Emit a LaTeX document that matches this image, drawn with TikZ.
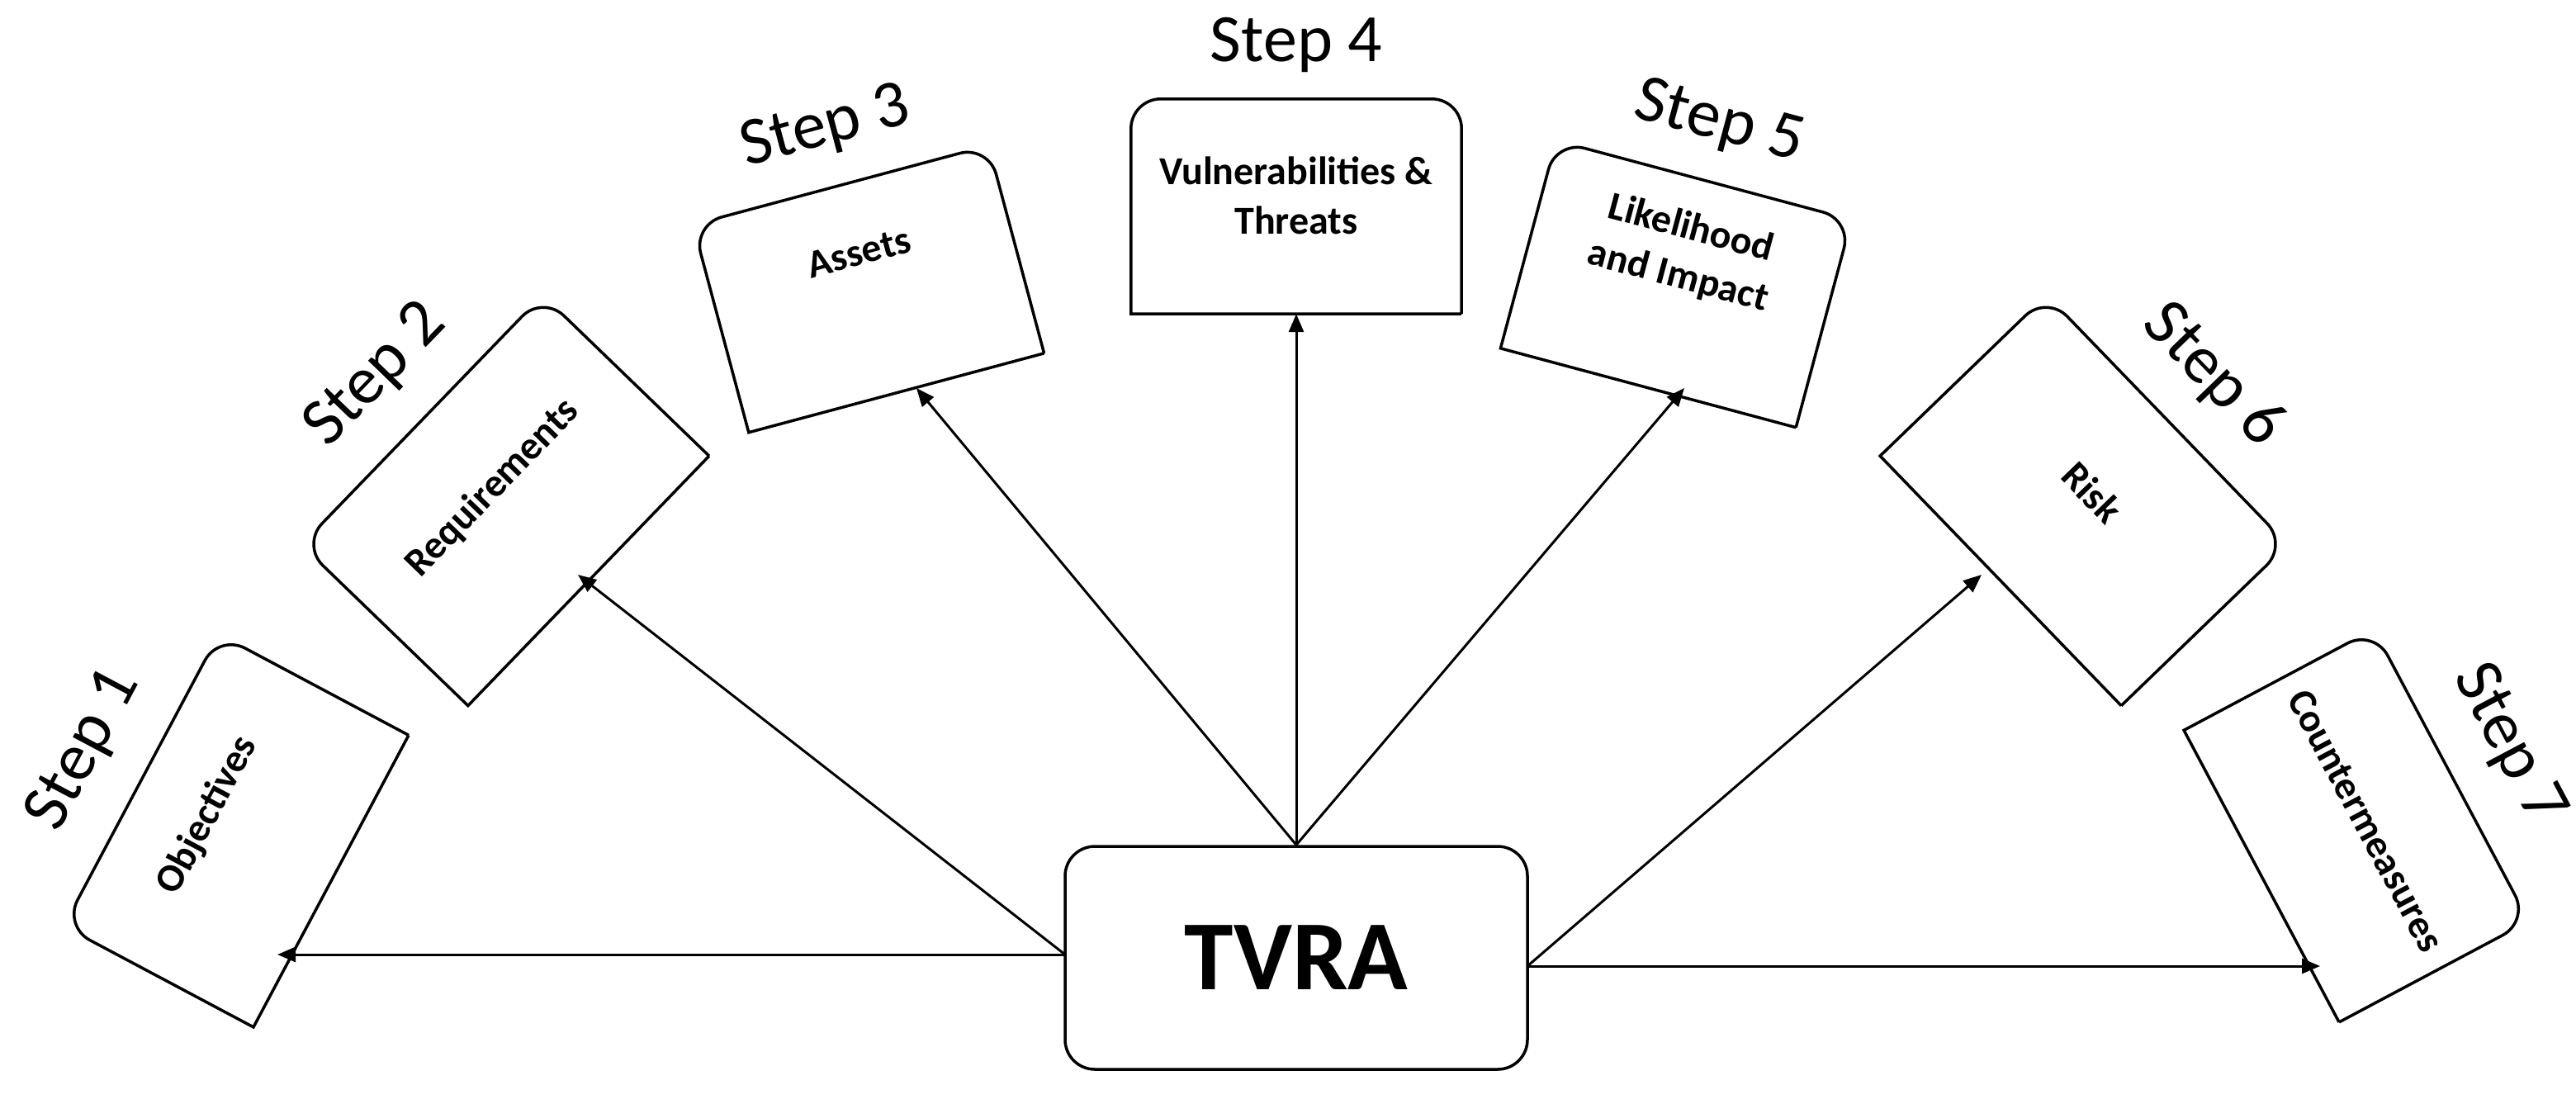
\documentclass[tikz,border=0pt]{standalone}
\usepackage{fontspec}
\setmainfont{Carlito}
\usetikzlibrary{calc,arrows.meta}
\begin{document}
\begin{tikzpicture}[x=2pt,y=-2pt,
  steplbl/.style={font=\fontsize{82}{90}\selectfont},
  lbl/.style={font=\bfseries\fontsize{48}{60}\selectfont, align=center},
  arr/.style={line width=3pt,-{Triangle[length=22pt,width=18pt]}}]
\useasboundingbox (0,0) rectangle (1560,668);
\newcommand\tbox[1]{\draw[line width=3.5pt] (#1.south east) -- (#1.south west) [rounded corners=36pt] -- (#1.north west) -- (#1.north east) [sharp corners] -- (#1.south east);}
% boxes
\node[minimum width=400pt,minimum height=260pt,rotate=62]  (s1) at (143,503) {};
\node[minimum width=420pt,minimum height=280pt,rotate=46]  (s2) at (306,303) {};
\node[minimum width=370pt,minimum height=260pt,rotate=15]  (s3) at (526,175) {};
\node[minimum width=400pt,minimum height=260pt]            (s4) at (785,125) {};
\node[minimum width=370pt,minimum height=260pt,rotate=-15] (s5) at (1015,172) {};
\node[minimum width=420pt,minimum height=280pt,rotate=-46] (s6) at (1262,303) {};
\node[minimum width=400pt,minimum height=260pt,rotate=-62] (s7) at (1427,500) {};
\foreach \n in {s1,s2,s3,s4,s5,s6,s7}{\tbox{\n}}
% texts
\node[lbl,rotate=62]  at ($(s1.center)!0.3!(s1.north)$) {Objectives};
\node[lbl,rotate=46]  at ($(s2.center)!0.15!(s2.north)$) {Requirements};
\node[lbl,rotate=15]  at ($(s3.center)!0.35!(s3.north)$) {Assets};
\node[lbl]            at ($(s4.center)!0.1!(s4.north)$) {Vulnerabilities \&\\Threats};
\node[lbl,rotate=-15] at ($(s5.center)!0.3!(s5.north)$) {Likelihood\\and Impact};
\node[lbl,rotate=-46] at ($(s6.center)!0.1!(s6.north)$) {Risk};
\node[lbl,rotate=-62] at ($(s7.center)!0.1!(s7.north)$) {Countermeasures};
% step labels
\node[steplbl,rotate=62]  at ($(s1.center)!1.6!(s1.north)$) {Step 1};
\node[steplbl,rotate=46]  at ($(s2.center)!1.55!(s2.north)$) {Step 2};
\node[steplbl,rotate=15]  at ($(s3.center)!1.55!(s3.north)$) {Step 3};
\node[steplbl]            at ($(s4.center)!1.5!(s4.north)$) {Step 4};
\node[steplbl,rotate=-15] at ($(s5.center)!1.55!(s5.north)$) {Step 5};
\node[steplbl,rotate=-46] at ($(s6.center)!1.55!(s6.north)$) {Step 6};
\node[steplbl,rotate=-62] at ($(s7.center)!1.6!(s7.north)$) {Step 7};
% center
\node[draw,line width=3.5pt,rounded corners=36pt,minimum width=560pt,minimum height=270pt,
  font=\bfseries\fontsize{120}{130}\selectfont] (t) at (785,580) {TVRA};
% targets
\coordinate (t1) at (168,578);
\coordinate (t2) at (350,348);
\coordinate (t3) at (555,235);
\coordinate (t5) at (1020,235);
\coordinate (t6) at (1200,348);
\coordinate (t7) at (1405,585);
\coordinate (tl) at (645,578);
\coordinate (tr) at (925,585);
\draw[arr] (tl) -- (t1);
\draw[arr] (tl) -- (t2);
\draw[arr] (t.north) -- (t3);
\draw[arr] (t.north) -- (s4.south);
\draw[arr] (t.north) -- (t5);
\draw[arr] (tr) -- (t6);
\draw[arr] (tr) -- (t7);
\end{tikzpicture}
\end{document}
